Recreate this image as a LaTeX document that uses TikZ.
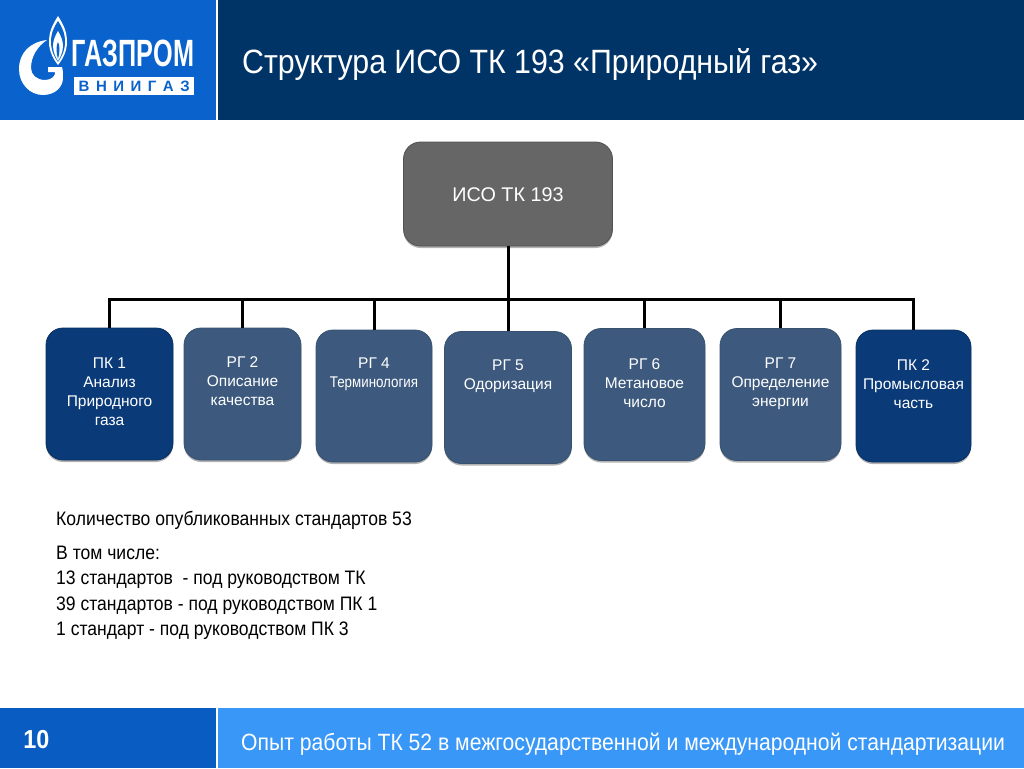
\documentclass[tikz,border=0pt]{standalone}
\usepackage{fontspec}
\setmainfont{Liberation Sans}
\newfontfamily\narrowfont[FakeStretch=0.9]{Liberation Sans}
\newfontfamily\tightfont[FakeStretch=0.86]{Liberation Sans}
\usetikzlibrary{shadows}

\definecolor{headblue}{HTML}{0A62CC}
\definecolor{headnavy}{HTML}{003366}
\definecolor{footlight}{HTML}{3897F7}
\definecolor{rgfill}{HTML}{3D5A7E}
\definecolor{rgdark}{HTML}{37516F}
\definecolor{pkfill}{HTML}{0A3A78}
\definecolor{pkdark}{HTML}{07305F}

\tikzset{
  boxshadow/.style={drop shadow={shadow xshift=0pt,shadow yshift=-2pt,opacity=0.3,fill=black}},
  rgbox/.style={draw=rgdark,line width=0.8pt,rounded corners=17pt,inner sep=0pt,fill=rgfill,boxshadow},
  pkbox/.style={draw=pkdark,line width=0.8pt,rounded corners=17pt,inner sep=0pt,fill=pkfill,boxshadow},
  topbox/.style={draw=black!68,line width=0.8pt,rounded corners=17pt,inner sep=0pt,fill=black!60,boxshadow},
  boxlabel/.style={anchor=north,align=center,text=white,inner sep=0pt,
    font=\fontsize{15.5}{19}\selectfont},
  busline/.style={line width=3pt,black},
  infotext/.style={anchor=north west,align=left,inner sep=0pt,
    font=\narrowfont\fontsize{19.5}{25.6}\selectfont},
}

\begin{document}
\begin{tikzpicture}[x=1pt,y=-1pt]
  \useasboundingbox (0,0) rectangle (1024,768);

  % Header
  \fill[headblue] (0,0) rectangle (216,120);
  \fill[headnavy] (218,0) rectangle (1024,120);
  \node[anchor=west,text=white,inner sep=0pt,font=\narrowfont\fontsize{33.7}{38}\selectfont] (title)
    at (242,64) {Структура ИСО ТК 193 «Природный газ»};

  % Logo
  \fill[white] (47,40) .. controls (30,42) and (19,53) .. (19,69)
    .. controls (19,84) and (30,95) .. (43,95)
    .. controls (55,95) and (63,87) .. (63,78)
    .. controls (63,74) and (63,70) .. (62,67) -- (48,67) -- (48,72) -- (55,72)
    .. controls (56,76) and (51,80) .. (45,80)
    .. controls (37,80) and (31,75) .. (31,68)
    .. controls (31,56) and (38,46) .. (47,40) -- cycle;
  \fill[white] (58,16) .. controls (53,24) and (49,31) .. (49,42)
    .. controls (49,52) and (54,60) .. (58,65)
    .. controls (62,60) and (67,52) .. (67,42)
    .. controls (67,31) and (63,24) .. (58,16) -- cycle;
  \fill[headblue] (58,21) .. controls (54,27) and (51,33) .. (51,42)
    .. controls (51,51) and (55,58) .. (58,62)
    .. controls (61,58) and (65,51) .. (65,42)
    .. controls (65,33) and (62,27) .. (58,21) -- cycle;
  \fill[white] (58,31) .. controls (55,36) and (53,41) .. (53,46)
    .. controls (53,52) and (56,58) .. (58,61)
    .. controls (60,58) and (63,52) .. (63,46)
    .. controls (63,41) and (61,36) .. (58,31) -- cycle;
  \fill[headblue] (58,42) .. controls (56,46) and (56,52) .. (58,59)
    .. controls (60,52) and (60,46) .. (58,42) -- cycle;
  \node[anchor=center,text=white,inner sep=0pt,font=\bfseries\fontsize{38}{38}\selectfont,
    xscale=0.665,transform shape] (gazprom) at (133,53.5) {ГАЗПРОМ};
  \node[anchor=north west,fill=white,minimum width=120pt,minimum height=18pt,inner sep=0pt,
    text=headblue,font=\bfseries\fontsize{15}{15}\selectfont] (vniigaz) at (74,77)
    {В\hspace{6.5pt}Н\hspace{6.5pt}И\hspace{6.5pt}И\hspace{6.5pt}Г\hspace{6.5pt}А\hspace{6.5pt}З};

  % Top box
  \node[topbox,minimum width=209pt,minimum height=104pt] (iso) at (508,194) {};
  \node[text=white,inner sep=0pt,font=\fontsize{19.8}{22}\selectfont] (isolabel) at (508,194.5) {ИСО ТК 193};

  % Committees and groups
  \node[pkbox,minimum width=127pt,minimum height=132pt] (pk1) at (109.5,394) {};
  \node[rgbox,minimum width=117pt,minimum height=132pt] (rg2) at (242.5,394) {};
  \node[rgbox,minimum width=116pt,minimum height=132pt] (rg4) at (374,396) {};
  \node[rgbox,minimum width=127pt,minimum height=132pt] (rg5) at (508,397.5) {};
  \node[rgbox,minimum width=121pt,minimum height=132pt] (rg6) at (644.5,394.5) {};
  \node[rgbox,minimum width=121pt,minimum height=132pt] (rg7) at (780.5,394.5) {};
  \node[pkbox,minimum width=115pt,minimum height=132pt] (pk2) at (913.5,396) {};

  % Box texts
  \node[boxlabel] (pk1text) at (109.5,358) {ПК 1\\Анализ\\Природного\\газа};
  \node[boxlabel] (rg2text) at (242.5,356.5) {РГ 2\\Описание\\качества};
  \node[boxlabel] (rg4text) at (374,358) {РГ 4\\{\tightfont Терминология}};
  \node[boxlabel] (rg5text) at (508,360) {РГ 5\\Одоризация};
  \node[boxlabel] (rg6text) at (644.5,358) {РГ 6\\Метановое\\число};
  \node[boxlabel] (rg7text) at (780.5,358) {РГ 7\\Определение\\энергии};
  \node[boxlabel] (pk2text) at (913.5,359) {ПК 2\\Промысловая\\часть};

  % Connectors
  \coordinate (bus) at (508,299);
  \draw[busline] (iso.south) -- (rg5.north);
  \foreach \n in {pk1,rg2,rg4,rg6,rg7,pk2}
    \draw[busline] (\n.north) |- (bus);

  % Counts
  \node[infotext] (total) at (56,511) {Количество опубликованных стандартов 53};
  \node[infotext] (detail) at (56,545.5) {В том числе:\\13 стандартов\ \ - под руководством ТК\\39 стандартов - под руководством ПК 1\\1 стандарт - под руководством ПК 3};

  % Footer
  \fill[headblue!95!black] (0,708) rectangle (216,768);
  \fill[footlight] (218,708) rectangle (1024,768);
  \node[text=white,inner sep=0pt,font=\bfseries\narrowfont\fontsize{26}{28}\selectfont] (pagenum) at (36.5,740) {10};
  \node[anchor=west,text=white,inner sep=0pt,font=\narrowfont\fontsize{23.5}{28}\selectfont] (footer)
    at (241,744) {Опыт работы ТК 52 в межгосударственной и международной стандартизации};
\end{tikzpicture}
\end{document}
